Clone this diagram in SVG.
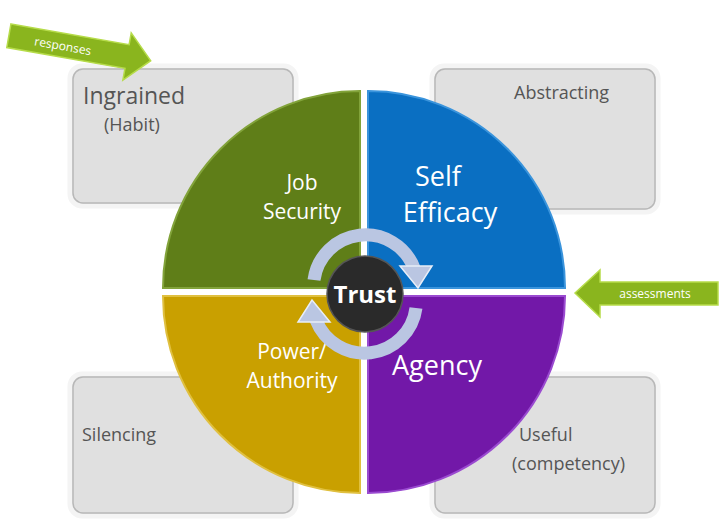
<svg xmlns="http://www.w3.org/2000/svg" width="720" height="530" viewBox="0 0 720 530">
<defs>
<style>
.box{fill:#e0e0e0;stroke:#f4f4f4;stroke-width:5}
.boxo{fill:none;stroke:#b8b8b8;stroke-width:1.5}
.bt{font-family:"Open Sans","Liberation Sans",sans-serif;fill:#555}
.qt{font-family:"Open Sans","Liberation Sans",sans-serif;fill:#fff;text-anchor:middle}
.ring{fill:none;stroke:#bac6e2;stroke-width:13}
.head{fill:#bac6e2;stroke:#e8eef8;stroke-width:1.5}
.ga{fill:#8ab51e;stroke:#b6dc4a;stroke-width:1.5}
</style>
<linearGradient id="gg" x1="0" y1="0" x2="0" y2="1"><stop offset="0" stop-color="#9cc72a"/><stop offset="1" stop-color="#6f9a10"/></linearGradient>
</defs>
<rect width="720" height="530" fill="#fff"/>
<g id="box-ingrained"><rect class="box" x="70" y="66" width="226" height="140" rx="12"/><rect class="boxo" x="73" y="69" width="220" height="134" rx="10"/>
<text class="bt" x="83" y="104" font-size="23">Ingrained</text><text class="bt" x="104" y="131" font-size="18">(Habit)</text></g>
<g id="box-abstracting"><rect class="box" x="432" y="66" width="226" height="146" rx="12"/><rect class="boxo" x="435" y="69" width="220" height="140" rx="10"/>
<text class="bt" x="514" y="99" font-size="18">Abstracting</text></g>
<g id="box-silencing"><rect class="box" x="70" y="374" width="226" height="142" rx="12"/><rect class="boxo" x="73" y="377" width="220" height="136" rx="10"/>
<text class="bt" x="82" y="441" font-size="18">Silencing</text></g>
<g id="box-useful"><rect class="box" x="432" y="374" width="226" height="142" rx="12"/><rect class="boxo" x="435" y="377" width="220" height="136" rx="10"/>
<text class="bt" x="519" y="441" font-size="18">Useful</text><text class="bt" x="512" y="470" font-size="18">(competency)</text></g>
<g id="job-security"><path d="M360 288H163A197 197 0 0 1 360 91Z" fill="#5f7e18" stroke="#82a33a" stroke-width="2"/>
<text class="qt" x="302" y="190" font-size="21">Job</text><text class="qt" x="302" y="219" font-size="21">Security</text></g>
<g id="self-efficacy"><path d="M368 288V91A197 197 0 0 1 565 288Z" fill="#0a6fc2" stroke="#3a94dc" stroke-width="2"/>
<text class="qt" x="438" y="186" font-size="27">Self</text><text class="qt" x="450" y="222" font-size="27">Efficacy</text></g>
<g id="power-authority"><path d="M360 296V493A197 197 0 0 1 163 296Z" fill="#c9a000" stroke="#e0c040" stroke-width="2"/>
<text class="qt" x="292" y="359" font-size="21">Power/</text><text class="qt" x="292" y="388" font-size="21">Authority</text></g>
<g id="agency"><path d="M368 296H565A197 197 0 0 1 368 493Z" fill="#7218a8" stroke="#9a4ad0" stroke-width="2"/>
<text class="qt" x="437" y="375" font-size="27">Agency</text></g>
<g id="cycle">
<path class="ring" d="M314 280A52 52 0 0 1 414 268"/>
<polygon class="head" points="400,266 432,266 418,288"/>
<path class="ring" d="M416 308A52 52 0 0 1 316 320"/>
<polygon class="head" points="330,322 298,322 312,300"/>
</g>
<g id="trust"><circle cx="365" cy="294" r="38" fill="#2a2a2a" stroke="#555" stroke-width="1.5"/>
<text class="qt" x="365" y="303" font-size="24" font-weight="bold">Trust</text></g>
<g id="arrows">
<g transform="translate(12,18) rotate(10)"><polygon class="ga" points="0,6 120,6 120,-6 144,18 120,42 120,30 0,30" fill="url(#gg)"/>
<text x="55" y="23" font-family="'Open Sans','Liberation Sans',sans-serif" font-size="12" fill="#fff" text-anchor="middle">responses</text></g>
<polygon class="ga" points="575,293 600,270 600,282 718,282 718,305 600,305 600,317" fill="url(#gg)"/>
<text x="655" y="298" font-family="'Open Sans','Liberation Sans',sans-serif" font-size="12" fill="#fff" text-anchor="middle">assessments</text>
</g>
</svg>
